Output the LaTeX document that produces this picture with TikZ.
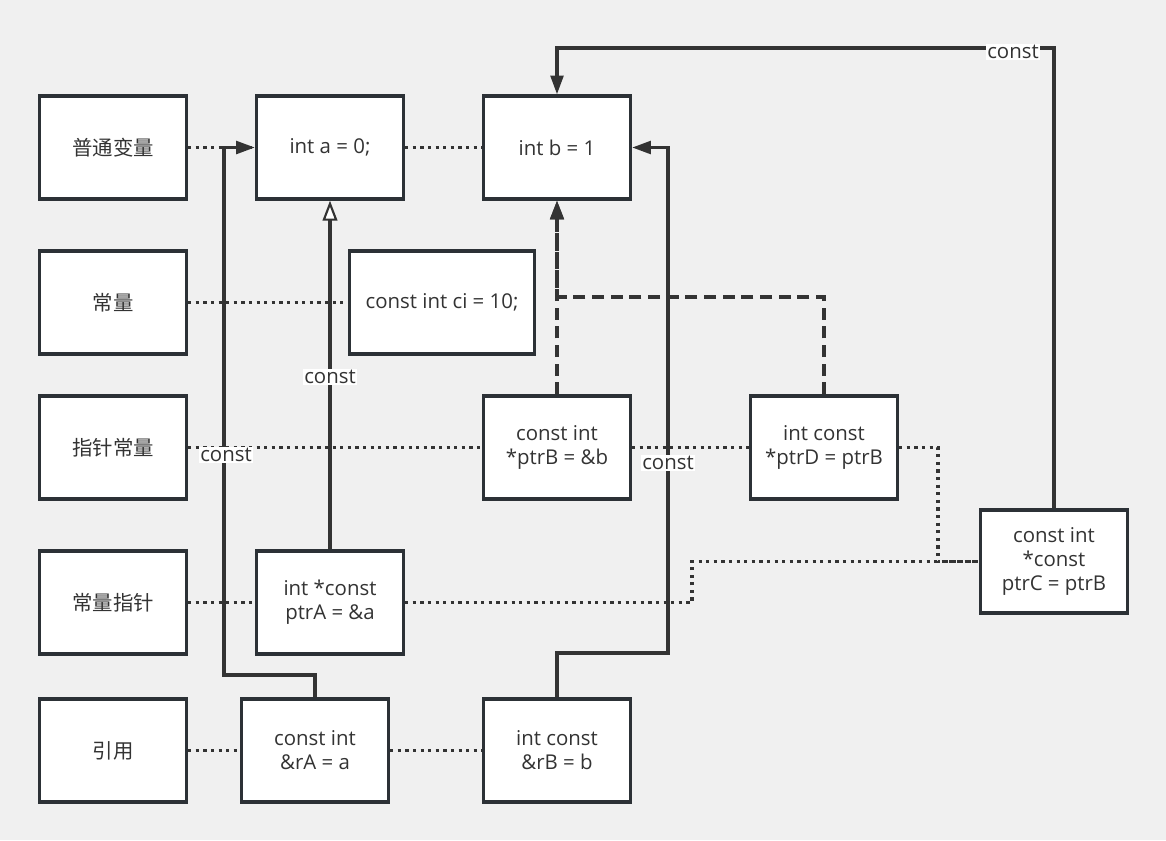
\documentclass[tikz,border=0pt]{standalone}
\usepackage{fontspec}
\setmainfont{Open Sans}
\newfontfamily\cjk{Noto Sans CJK SC}
\usetikzlibrary{arrows.meta}
\definecolor{bg}{HTML}{F0F0F0}
\definecolor{ln}{HTML}{333333}
\definecolor{bd}{HTML}{2C3136}
\begin{document}
\begin{tikzpicture}[x=0.75pt,y=-0.75pt,
  box/.style={draw=bd, line width=2.7pt, fill=white, minimum width=110pt, minimum height=77pt,
    align=center, font=\fontsize{15.3}{18}\selectfont, text=ln, inner sep=0pt},
  dotline/.style={draw=ln, line width=2.6pt, dash pattern=on 2.4pt off 3.3pt},
  dashline/.style={draw=ln, line width=2.5pt, dash pattern=on 9pt off 5pt, -{Triangle[length=14pt,width=10pt]}},
  arr/.style={draw=ln, line width=2.4pt, -{Triangle[length=14pt,width=9.5pt]}},
  oarr/.style={draw=ln, line width=2.4pt, -{Triangle[length=15pt,width=11pt,fill=white,line width=1.6pt]}},
  lbl/.style={fill=white, inner sep=1pt, text=ln, font=\fontsize{15.3}{18}\selectfont}]
\useasboundingbox[fill=bg] (0,0) rectangle (1166,840);
% left column
\node[box] (n1) at (113,147.5) {\cjk 普通变量};
\node[box] (n2) at (113,302.5) {\cjk 常量};
\node[box] (n3) at (113,447.5) {\cjk 指针常量};
\node[box] (n4) at (113,602.5) {\cjk 常量指针};
\node[box] (n5) at (113,750.5) {\cjk 引用};
% others
\node[box] (a) at (330,147.5) {int a = 0;};
\node[box] (b) at (557,147.5) {int b = 1};
\node[box, minimum width=139pt] (ci) at (442,302.5) {const int ci = 10;};
\node[box] (pB) at (557,447.5) {const int\\*ptrB = \&b};
\node[box] (pD) at (824,447.5) {int const\\*ptrD = ptrB};
\node[box] (pC) at (1054,561.5) {const int\\*const\\ptrC = ptrB};
\node[box] (pA) at (330,602.5) {int *const\\ptrA = \&a};
\node[box] (rA) at (315,750.5) {const int\\\&rA = a};
\node[box] (rB) at (557,750.5) {int const\\\&rB = b};
% dotted links
\draw[dotline] (n1.east) -- (a.west);
\draw[dotline] (a.east) -- (b.west);
\draw[dotline] (n2.east) -- (ci.west);
\draw[dotline] (n3.east) -- (pB.west);
\draw[dotline] (pB.east) -- (pD.west);
\draw[dotline] (pD.east) -- (938,447.5) |- (pC.west);
\draw[dotline] (n4.east) -- (pA.west);
\draw[dotline] (pA.east) -- (692,602.5) |- (pC.west);
\draw[dotline] (n5.east) -- (rA.west);
\draw[dotline] (rA.east) -- (rB.west);
% dashed links
\draw[dashline] (pB.north) -- (b.south);
\draw[dashline] (pD.north) -- (824,297) -| (b.south);
% solid arrows
\draw[arr] (rA.north) |- (224,675) |- (a.west);
\node[lbl] (l1) at (226,455) {const};
\draw[oarr] (pA.north) -- (a.south);
\node[lbl] (l2) at (330,377) {const};
\draw[arr] (rB.north) |- (668,653) |- (b.east);
\node[lbl] (l3) at (668,463) {const};
\draw[arr] (pC.north) -- (1054,48) -| (b.north);
\node[lbl] (l4) at (1013,52) {const};
\end{tikzpicture}
\end{document}
